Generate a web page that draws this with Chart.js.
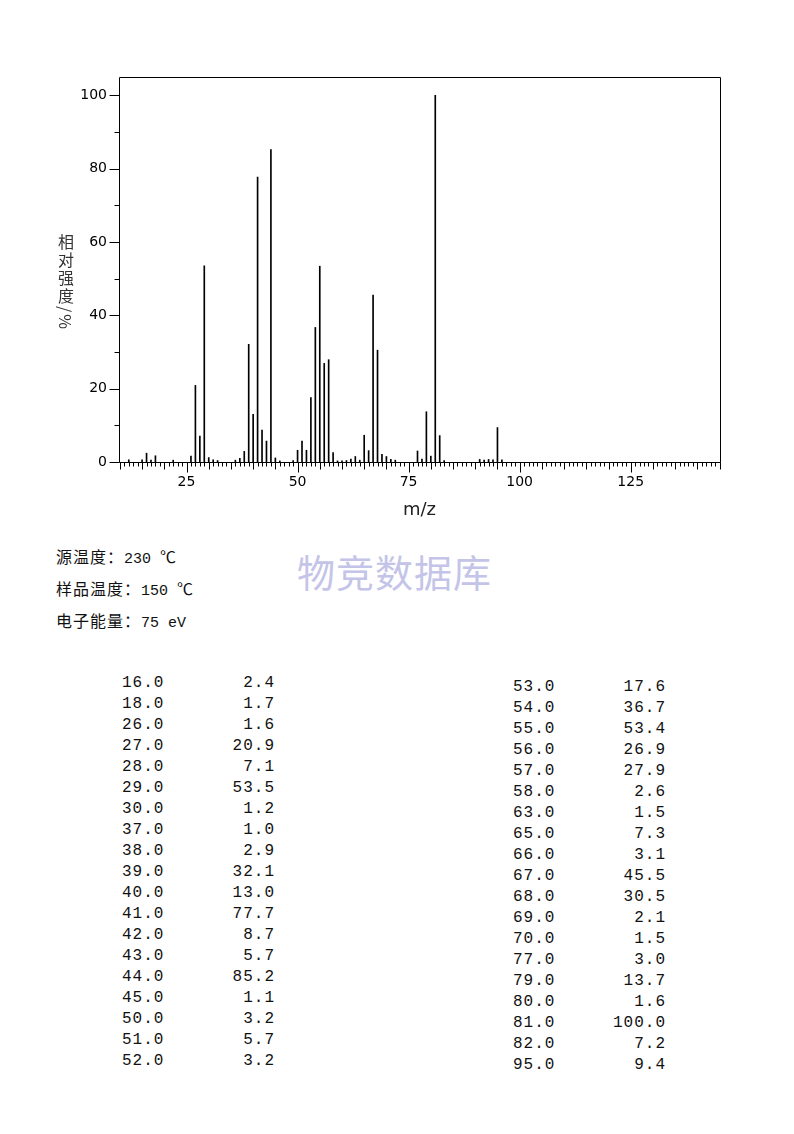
<!DOCTYPE html>
<html>
<head>
<meta charset="utf-8">
<script src="https://cdn.jsdelivr.net/npm/chart.js@4/dist/chart.umd.min.js"></script>
<style>
  body { margin: 0; background: #fff; }
  #page { position: relative; width: 794px; height: 1134px; overflow: hidden; background: #fff; }
  #chartBox { position: absolute; left: 0; top: 0; width: 794px; height: 530px; }
  #yTitle { position: absolute; left: 54px; top: 234px; writing-mode: vertical-rl; text-orientation: mixed;
            font: 16px "Noto Sans CJK SC", sans-serif; letter-spacing: 2px; color: #333; }
  .info { position: absolute; left: 56px; font: 16px "Noto Sans CJK SC", sans-serif; color: #111; line-height: 20px;
          letter-spacing: 1px; white-space: pre; }
  .info .num { font: 15px "Liberation Mono", monospace; letter-spacing: 0; }
  #watermark { position: absolute; left: 297px; top: 543px; font: 38px "Noto Sans CJK SC", sans-serif;
               color: rgb(196, 196, 232); letter-spacing: 1px; }
  .cell { position: absolute; font: 16px "Liberation Mono", monospace; letter-spacing: 1px; color: #111; line-height: 18px; white-space: pre; }
</style>
</head>
<body>
<div id="page">
  <div id="chartBox"><canvas id="msChart" width="794" height="530"></canvas></div>
  <div id="yTitle">相对强度/%</div>
  <div class="info" style="top:546px">源温度：<span class="num">230 </span>℃</div>
  <div class="info" style="top:578px">样品温度：<span class="num">150 </span>℃</div>
  <div class="info" style="top:610px">电子能量：<span class="num">75 eV</span></div>
  <div id="watermark">物竞数据库</div>
  <div id="table"></div>
</div>
<script>
// 질량 스펙트럼 피크 (표에 나온 값)
const peakMz = [16, 18, 26, 27, 28, 29, 30, 37, 38, 39, 40, 41, 42, 43, 44, 45, 50, 51, 52,
                53, 54, 55, 56, 57, 58, 63, 65, 66, 67, 68, 69, 70, 77, 79, 80, 81, 82, 95];
const peakIntensity = [2.4, 1.7, 1.6, 20.9, 7.1, 53.5, 1.2, 1.0, 2.9, 32.1, 13.0, 77.7, 8.7, 5.7, 85.2, 1.1, 3.2, 5.7, 3.2,
                       17.6, 36.7, 53.4, 26.9, 27.9, 2.6, 1.5, 7.3, 3.1, 45.5, 30.5, 2.1, 1.5, 3.0, 13.7, 1.6, 100.0, 7.2, 9.4];

// 그림에만 보이는 1% 미만의 작은 피크
const minorMz = [12, 15, 17, 22, 31, 32, 36, 46, 49, 59, 60, 61, 62, 64, 71, 72, 78, 83, 91, 92, 93, 94, 96];
const minorIntensity = [0.6, 0.6, 0.5, 0.5, 0.6, 0.4, 0.5, 0.3, 0.4, 0.3, 0.3, 0.4, 0.8, 0.5, 0.7, 0.5, 0.8, 0.4, 0.7, 0.5, 0.7, 0.6, 0.6];

const xTickLabels = [25, 50, 75, 100, 125];
const yTickLabels = [0, 20, 40, 60, 80, 100];

// 표를 그립니다.
const table = document.getElementById('table');
const half = Math.ceil(peakMz.length / 2);
peakMz.forEach((mz, i) => {
    const right = i >= half;
    const row = right ? i - half : i;
    const top = (right ? 678 : 674) + row * 21;
    const a = document.createElement('div');
    a.className = 'cell';
    a.style.left = (right ? 513 : 122) + 'px';
    a.style.top = top + 'px';
    a.textContent = mz.toFixed(1);
    const b = document.createElement('div');
    b.className = 'cell';
    b.style.right = (794 - (right ? 666 : 275)) + 'px';
    b.style.top = top + 'px';
    b.textContent = peakIntensity[i].toFixed(1);
    table.appendChild(a);
    table.appendChild(b);
});

// 테두리와 눈금을 그립니다.
const frameAndTicks = {
    id: 'frameAndTicks',
    afterDraw(chart) {
        const { ctx, chartArea: a, scales: { x, y } } = chart;
        ctx.save();
        ctx.strokeStyle = '#000';
        ctx.lineWidth = 1;
        ctx.beginPath();
        const L = Math.round(a.left) + 0.5, T = Math.round(a.top) + 0.5;
        const R = Math.round(a.right) + 0.5, B = Math.round(a.bottom) + 0.5;
        ctx.moveTo(L, T); ctx.lineTo(R, T); ctx.lineTo(R, B); ctx.lineTo(L, B); ctx.closePath();
        for (let m = Math.ceil(x.min); m <= x.max; m++) {
            const px = Math.round(x.getPixelForValue(m)) + 0.5;
            const len = m % 25 === 0 ? 10 : (m % 5 === 0 ? 7 : 4);
            ctx.moveTo(px, B);
            ctx.lineTo(px, B + len);
        }
        for (let v = 0; v <= y.max; v += 10) {
            const py = Math.round(y.getPixelForValue(v)) + 0.5;
            const len = v % 20 === 0 ? 10 : 5;
            ctx.moveTo(L - len, py);
            ctx.lineTo(L, py);
        }
        ctx.stroke();
        ctx.restore();
    }
};

const points = peakMz.map((m, i) => ({ x: m, y: peakIntensity[i] }))
    .concat(minorMz.map((m, i) => ({ x: m, y: minorIntensity[i] })));

const tickFont = { family: 'DejaVu Sans', size: 14 };

new Chart(document.getElementById('msChart'), {
    type: 'bar',
    data: {
        datasets: [{
            data: points,
            backgroundColor: '#000',
            borderWidth: 0,
            barThickness: 1
        }]
    },
    options: {
        responsive: false,
        animation: false,
        events: [],
        layout: { padding: { left: 0, right: 74, top: 77, bottom: 0 } },
        plugins: { legend: { display: false }, tooltip: { enabled: false } },
        scales: {
            x: {
                type: 'linear',
                min: 9.8,
                max: 145.1,
                offset: false,
                grid: { display: false, drawTicks: false, offset: false },
                border: { display: false },
                afterBuildTicks: s => { s.ticks = xTickLabels.map(v => ({ value: v })); },
                afterFit: s => { s.height = 68; },
                ticks: { font: tickFont, color: '#000', padding: 12, maxRotation: 0, autoSkip: false },
                title: {
                    display: true,
                    text: 'm/z',
                    color: '#222',
                    font: { family: 'DejaVu Sans', size: 18 },
                    padding: { top: 0, bottom: 9 }
                }
            },
            y: {
                min: 0,
                max: 105,
                grid: { display: false, drawTicks: false },
                border: { display: false },
                afterBuildTicks: s => { s.ticks = yTickLabels.map(v => ({ value: v })); },
                afterFit: s => { s.width = 119; },
                ticks: { font: tickFont, color: '#000', padding: 12, autoSkip: false }
            }
        }
    },
    plugins: [frameAndTicks]
});
</script>
</body>
</html>
